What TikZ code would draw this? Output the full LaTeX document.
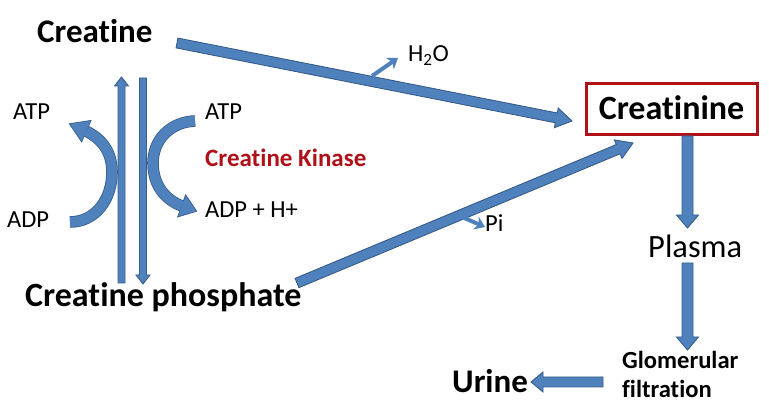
\documentclass[tikz,border=0pt]{standalone}
\usepackage{fontspec}
\setmainfont{Carlito}[RawFeature={-liga}]
\usetikzlibrary{calc,arrows.meta}
\definecolor{arrfill}{RGB}{79,129,189}
\definecolor{arrline}{RGB}{56,93,138}
\definecolor{kred}{RGB}{176,16,24}
\newcommand{\blockarr}[5]{%
 \coordinate (bas) at (#1); \coordinate (bae) at (#2);
 \coordinate (bah) at ($(bae)!#5!(bas)$);
 \filldraw[fill=arrfill,draw=arrline,line width=0.9pt,line join=miter]
 ($(bas)!#3!90:(bae)$) -- ($(bah)!#3!-90:(bas)$) -- ($(bah)!#4!-90:(bas)$) -- (bae) -- ($(bah)!#4!90:(bas)$) -- ($(bah)!#3!90:(bas)$) -- ($(bas)!#3!-90:(bae)$) -- cycle;}
\newcommand{\curvarr}[4]{%
 \draw[arrline,line width=11.6pt] #1;
 \filldraw[arrline,line width=1.6pt,line join=miter] ($(#2)!#4!90:(#3)$) -- (#3) -- ($(#2)!#4!-90:(#3)$) -- cycle;
 \draw[arrfill,line width=10pt] #1;
 \fill[arrfill] ($(#2)!#4!90:(#3)$) -- (#3) -- ($(#2)!#4!-90:(#3)$) -- cycle;}
\tikzset{
 lbl/.style={inner sep=0pt,anchor=base west},
 bigb/.style={font=\fontsize{33}{36}\selectfont\bfseries},
 small/.style={font=\fontsize{24.5}{28}\selectfont},
 thinarr/.style={arrfill,line width=4pt,-{Stealth[length=10pt,width=14pt]}}
}
\begin{document}
\begin{tikzpicture}[x=1pt,y=-1pt]
\useasboundingbox (0,0) rectangle (769,419);
% texts
\node[lbl,bigb] (creatine) at (37,43) {Creatine};
\node[lbl,font=\fontsize{34}{36}\selectfont\bfseries] (cp) at (25,307) {Creatine phosphate};
\node[inner sep=0pt,anchor=base,font=\fontsize{34}{36}\selectfont\bfseries] (crn) at (671.5,120) {Creatinine};
\draw[kred,line width=3pt] (586,84) rectangle (757,135);
\node[lbl,small] (atpl) at (13,120) {ATP};
\node[lbl,small] (adpl) at (7,228) {ADP};
\node[lbl,small] (atpr) at (205,120) {ATP};
\node[lbl,font=\fontsize{25}{28}\selectfont\bfseries,text=kred] (ck) at (205,167) {Creatine Kinase};
\node[lbl,small] (adpr) at (205,218) {ADP + H+};
\node[lbl,small] (h2o) at (408,62) {H\textsubscript{2}O};
\node[lbl,small] (pi) at (485,232) {Pi};
\node[lbl,font=\fontsize{32.5}{34}\selectfont] (plasma) at (648,258) {Plasma};
\node[lbl,font=\fontsize{24.6}{29}\selectfont\bfseries,align=left] (glom) at (622,398) {Glomerular\\filtration};
\node[lbl,bigb] (urine) at (452,393) {Urine};
% connector coordinates
\coordinate (c1s) at (177,43); \coordinate (c1e) at (572,121);
\coordinate (c2s) at (297,283); \coordinate (c2e) at (633,143);
\coordinate (ups) at (121.5,283); \coordinate (upe) at (121.5,77);
\coordinate (dns) at (143,78); \coordinate (dne) at (143,284);
\coordinate (p1s) at (687.5,136); \coordinate (p1e) at (687.5,228);
\coordinate (p2s) at (687.5,263); \coordinate (p2e) at (687.5,350);
\coordinate (us) at (603,382); \coordinate (ue) at (531,382);
% block arrows
\blockarr{c1s}{c1e}{5pt}{10pt}{16pt}
\blockarr{c2s}{c2e}{5pt}{10pt}{16pt}
\blockarr{ups}{upe}{3.5pt}{7pt}{9pt}
\blockarr{dns}{dne}{3.5pt}{7pt}{9pt}
\blockarr{p1s}{p1e}{5.5pt}{11pt}{13pt}
\blockarr{p2s}{p2e}{5.5pt}{11pt}{13pt}
\blockarr{us}{ue}{5pt}{10pt}{12pt}
% curved arrows
\coordinate (lb) at (86,131); \coordinate (lt) at (70,124);
\coordinate (rb) at (182,206); \coordinate (rt) at (196,211);
\curvarr{(70,222) .. controls (95,222) and (112,200) .. (112,172) .. controls (112,150) and (100,138) .. (lb)}{lb}{lt}{11pt}
\curvarr{(195,121) .. controls (170,122) and (153,140) .. (153,163) .. controls (153,186) and (166,200) .. (rb)}{rb}{rt}{11pt}
% small side arrows
\coordinate (h2s) at (372,76); \coordinate (h2e) at (398,58);
\coordinate (pis) at (462,217); \coordinate (pie) at (485,227);
\draw[thinarr] (h2s) -- (h2e);
\draw[thinarr] (pis) -- (pie);
\end{tikzpicture}
\end{document}
